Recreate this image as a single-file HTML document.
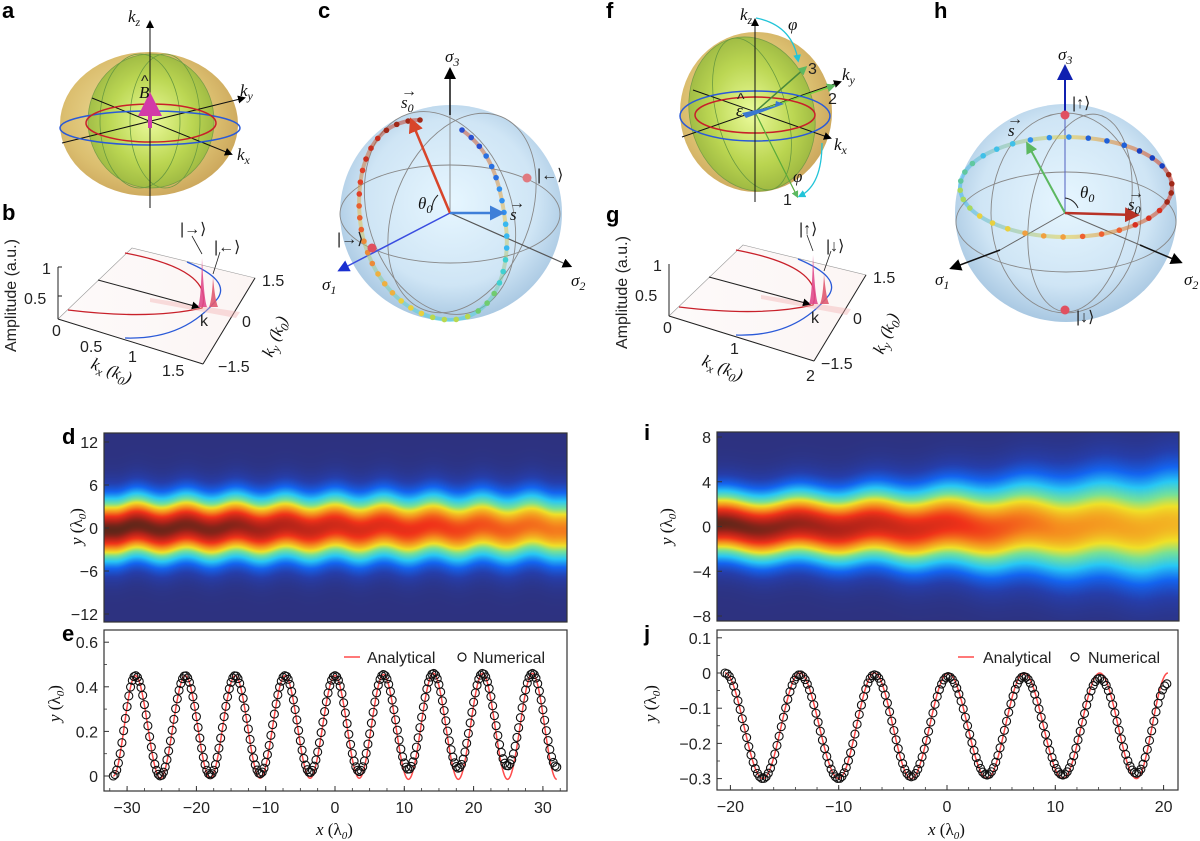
<!DOCTYPE html>
<html><head><meta charset="utf-8">
<style>
html,body{margin:0;padding:0;background:#fff;}
#wrap{position:relative;width:1200px;height:841px;overflow:hidden;font-family:"Liberation Sans",sans-serif;}
svg{position:absolute;left:0;top:0;}
canvas{position:absolute;}
.lbl{font-family:"Liberation Sans",sans-serif;font-weight:bold;font-size:22px;fill:#000;}
.tk{font-family:"Liberation Sans",sans-serif;font-size:16px;fill:#222;}
.it{font-family:"Liberation Serif",serif;font-style:italic;font-size:17px;fill:#111;}
</style></head>
<body>
<div id="wrap">
<canvas id="heatD" width="463" height="189" style="left:104px;top:433px"></canvas>
<canvas id="heatI" width="462" height="189" style="left:717px;top:432px"></canvas>
<svg id="fig" width="1200" height="841" viewBox="0 0 1200 841">
<defs>
 <radialGradient id="gYel" cx="45%" cy="45%" r="60%"><stop offset="0" stop-color="#f3e6a0"/><stop offset="0.7" stop-color="#d8b860"/><stop offset="1" stop-color="#c49a48"/></radialGradient>
 <radialGradient id="gGrn" cx="50%" cy="50%" r="55%"><stop offset="0" stop-color="#eaff9a"/><stop offset="0.6" stop-color="#b4d84a"/><stop offset="1" stop-color="#8fb43a"/></radialGradient>
 <radialGradient id="gBlue" cx="50%" cy="45%" r="55%"><stop offset="0" stop-color="#e6f6ff"/><stop offset="0.7" stop-color="#cfe5f5"/><stop offset="1" stop-color="#a9c8e2"/></radialGradient>
 <linearGradient id="gPlane" x1="0" x2="1"><stop offset="0" stop-color="#fdfafa"/><stop offset="1" stop-color="#fcf5f4"/></linearGradient>
 <marker id="ahK" markerWidth="8" markerHeight="8" refX="6" refY="4" orient="auto"><path d="M0,0 L8,4 L0,8 z" fill="#000"/></marker>
 <marker id="ahM" markerWidth="6" markerHeight="6" refX="3" refY="3" orient="auto"><path d="M0,0 L6,3 L0,6 z" fill="#d23aa8"/></marker>
 <marker id="ahB" markerWidth="8" markerHeight="8" refX="6" refY="4" orient="auto"><path d="M0,0 L8,4 L0,8 z" fill="#1a2fd0"/></marker>
 <marker id="ahR" markerWidth="6" markerHeight="6" refX="4" refY="3" orient="auto"><path d="M0,0 L6,3 L0,6 z" fill="#d8452a"/></marker>
 <marker id="ahDR" markerWidth="6" markerHeight="6" refX="4" refY="3" orient="auto"><path d="M0,0 L6,3 L0,6 z" fill="#b83226"/></marker>
 <marker id="ahS" markerWidth="6" markerHeight="6" refX="4" refY="3" orient="auto"><path d="M0,0 L6,3 L0,6 z" fill="#3f7fd8"/></marker>
 <marker id="ahG" markerWidth="6" markerHeight="6" refX="4" refY="3" orient="auto"><path d="M0,0 L6,3 L0,6 z" fill="#5cb860"/></marker>
 <marker id="ahC" markerWidth="6" markerHeight="6" refX="4" refY="3" orient="auto"><path d="M0,0 L6,3 L0,6 z" fill="#22c4d8"/></marker>
 <marker id="ahNavy" markerWidth="8" markerHeight="8" refX="6" refY="4" orient="auto"><path d="M0,0 L8,4 L0,8 z" fill="#1020b0"/></marker>
 <linearGradient id="rbC" x1="0" y1="0" x2="0" y2="1"><stop offset="0" stop-color="#c03020"/><stop offset="0.5" stop-color="#e8c040"/><stop offset="1" stop-color="#40d0e0"/></linearGradient>
 <linearGradient id="rbH" x1="0" y1="0" x2="1" y2="0"><stop offset="0" stop-color="#40b8f0"/><stop offset="0.5" stop-color="#e8d040"/><stop offset="1" stop-color="#d03020"/></linearGradient>
</defs>

<!-- Panel a -->
<g>
 <text class="lbl" x="2" y="18">a</text>
 <ellipse cx="149" cy="124" rx="89" ry="72" fill="url(#gYel)" opacity="0.9"/>
 <ellipse cx="151" cy="121" rx="63" ry="67" fill="url(#gGrn)" opacity="0.85" stroke="#6a9a40" stroke-width="0.8"/>
 <ellipse cx="140" cy="121" rx="40" ry="67" fill="none" stroke="#6a9a40" stroke-width="0.8"/>
 <ellipse cx="165" cy="121" rx="35" ry="67" fill="none" stroke="#6a9a40" stroke-width="0.8"/>
 <line x1="62" y1="143" x2="244" y2="98" stroke="#111" stroke-width="1" marker-end="url(#ahK)"/>
 <line x1="92" y1="98" x2="231" y2="154" stroke="#111" stroke-width="1" marker-end="url(#ahK)"/>
 <ellipse cx="150" cy="128" rx="90" ry="17" fill="none" stroke="#2a5ad8" stroke-width="1.5"/>
 <ellipse cx="151" cy="123" rx="65" ry="19" fill="none" stroke="#c8202a" stroke-width="1.5"/>
 <line x1="150" y1="208" x2="150" y2="22" stroke="#111" stroke-width="1" marker-end="url(#ahK)"/>
 <line x1="150" y1="128" x2="150" y2="104" stroke="#d23aa8" stroke-width="4" marker-end="url(#ahM)"/>
 <text class="it" x="128" y="22">k<tspan font-size="12" dy="4">z</tspan></text>
 <text class="it" x="240" y="96">k<tspan font-size="12" dy="4">y</tspan></text>
 <text class="it" x="237" y="160">k<tspan font-size="12" dy="4">x</tspan></text>
 <text class="it" x="139" y="98" font-size="15">B</text><text class="tk" x="141" y="86" font-size="11">^</text>
</g>

<!-- Panel b -->
<g id="panelB">
 <text class="lbl" x="2" y="220">b</text>
 <polygon points="58,319 132,248 255,278 203,364" fill="url(#gPlane)" stroke="#999" stroke-width="0.6"/>
 <line x1="58" y1="319" x2="203" y2="364" stroke="#222" stroke-width="1"/>
 <line x1="203" y1="364" x2="255" y2="278" stroke="#222" stroke-width="1"/>
 <line x1="58" y1="319" x2="58" y2="267" stroke="#222" stroke-width="1"/>
 <line x1="58" y1="267" x2="62" y2="267" stroke="#222"/><line x1="58" y1="296" x2="62" y2="296" stroke="#222"/>
 <path d="M125,253 Q215,270 202,308 Q150,320 68,310" fill="none" stroke="#c8202a" stroke-width="1.3"/>
 <path d="M187,262 Q230,280 218,298 Q185,340 125,338" fill="none" stroke="#2a5ad8" stroke-width="1.3"/>
 <polygon points="150,298 240,312 236,318 150,302" fill="#f2b0b0" opacity="0.4"/>
 <line x1="98" y1="280" x2="198" y2="307" stroke="#222" stroke-width="1" marker-end="url(#ahK)"/>
 <path d="M198,307 Q201,300 202,258 Q204,300 207,307 z" fill="#e04a8c" opacity="0.9"/>
 <path d="M209,307 Q212,300 213,277 Q215,300 218,307 z" fill="#e05a70" opacity="0.9"/>
 <line x1="202" y1="254" x2="192" y2="236" stroke="#222" stroke-width="0.8"/>
 <line x1="213" y1="274" x2="220" y2="252" stroke="#222" stroke-width="0.8"/>
 <text class="tk" x="180" y="234" font-size="14">|→⟩</text>
 <text class="tk" x="214" y="252" font-size="14">|←⟩</text>
 <text class="tk" x="200" y="326" font-size="14">k</text>
 <text class="tk" x="42" y="274">1</text><text class="tk" x="24" y="304">0.5</text><text class="tk" x="52" y="336">0</text>
 <text class="tk" x="80" y="352">0.5</text><text class="tk" x="128" y="362">1</text><text class="tk" x="162" y="376">1.5</text>
 <text class="tk" x="262" y="286">1.5</text><text class="tk" x="242" y="327">0</text><text class="tk" x="218" y="372">−1.5</text>
 <text class="it" x="0" y="0" transform="translate(90,368) rotate(22)">k<tspan font-size="12" dy="4">x</tspan><tspan dy="-4"> (k</tspan><tspan font-size="12" dy="4">0</tspan><tspan dy="-4">)</tspan></text>
 <text class="it" x="0" y="0" transform="translate(272,358) rotate(-68)">k<tspan font-size="12" dy="4">y</tspan><tspan dy="-4"> (k</tspan><tspan font-size="12" dy="4">0</tspan><tspan dy="-4">)</tspan></text>
 <text class="tk" x="0" y="0" transform="translate(16,352) rotate(-90)">Amplitude (a.u.)</text>
</g>

<!-- Panel c -->
<g>
 <text class="lbl" x="318" y="18">c</text>
 <ellipse cx="451" cy="213" rx="111" ry="108" fill="url(#gBlue)"/>
 <g fill="none" stroke="#888" stroke-width="0.9">
  <ellipse cx="450" cy="214" rx="110" ry="49"/>
  <ellipse cx="440" cy="213" rx="72" ry="104" transform="rotate(-18 440 213)"/>
  <ellipse cx="462" cy="213" rx="68" ry="104" transform="rotate(22 462 213)"/>
  <line x1="450" y1="213" x2="450" y2="110"/>
 </g>
 <line x1="450" y1="115" x2="450" y2="70" stroke="#111" stroke-width="1.5" marker-end="url(#ahK)"/>
 <line x1="450" y1="213" x2="340" y2="270" stroke="#3a4de0" stroke-width="1.5" marker-end="url(#ahB)"/>
 <line x1="450" y1="213" x2="570" y2="266" stroke="#555" stroke-width="1.2" marker-end="url(#ahK)"/>
 <path id="trajC" d="M420,120 C370,120 355,170 360,220 C365,270 400,318 450,320 C500,318 512,260 505,220 C500,180 490,150 462,130" fill="none" stroke="url(#rbC)" stroke-width="4" opacity="0.5"/>
 <g id="dotsC"></g>
 <line x1="450" y1="213" x2="412" y2="122" stroke="#d8452a" stroke-width="2.5" marker-end="url(#ahR)"/>
 <line x1="450" y1="213" x2="500" y2="213" stroke="#3f7fd8" stroke-width="2.5" marker-end="url(#ahS)"/>
 <circle cx="527" cy="178" r="4.5" fill="#e07a80"/><circle cx="372" cy="248" r="4.5" fill="#e05060"/>
 <path d="M432,210 A20,20 0 0 1 438,195" fill="none" stroke="#222"/>
 <text class="it" x="418" y="209">θ<tspan font-size="12" dy="4">0</tspan></text>
 <text class="it" x="445" y="62">σ<tspan font-size="12" dy="4">3</tspan></text>
 <text class="it" x="322" y="290">σ<tspan font-size="12" dy="4">1</tspan></text>
 <text class="it" x="571" y="286">σ<tspan font-size="12" dy="4">2</tspan></text>
 <text class="it" x="401" y="108">s<tspan font-size="12" dy="4">0</tspan></text><text class="tk" x="401" y="96" font-size="11">→</text>
 <text class="it" x="510" y="220">s</text><text class="tk" x="509" y="208" font-size="11">→</text>
 <text class="tk" x="537" y="180" font-size="15">|←⟩</text>
 <text class="tk" x="337" y="244" font-size="15">|→⟩</text>
</g>

<!-- Panel f -->
<g>
 <text class="lbl" x="606" y="18">f</text>
 <ellipse cx="756" cy="112" rx="76" ry="80" fill="url(#gYel)" opacity="0.9"/>
 <ellipse cx="752" cy="114" rx="62" ry="78" fill="url(#gGrn)" opacity="0.85" stroke="#6a9a40" stroke-width="0.8" transform="rotate(-15 752 114)"/>
 <ellipse cx="752" cy="114" rx="35" ry="78" fill="none" stroke="#6a9a40" stroke-width="0.8" transform="rotate(-15 752 114)"/>
 <line x1="682" y1="137" x2="840" y2="82" stroke="#111" stroke-width="1" marker-end="url(#ahK)"/>
 <line x1="693" y1="90" x2="830" y2="138" stroke="#111" stroke-width="1" marker-end="url(#ahK)"/>
 <line x1="755" y1="112" x2="833" y2="86" stroke="#7cd040" stroke-width="1.5" marker-end="url(#ahG)"/>
 <ellipse cx="755" cy="116" rx="75" ry="25" fill="none" stroke="#2a5ad8" stroke-width="1.5"/>
 <ellipse cx="755" cy="115" rx="60" ry="18" fill="none" stroke="#c8202a" stroke-width="1.5"/>
 <line x1="755" y1="202" x2="755" y2="20" stroke="#111" stroke-width="1" marker-end="url(#ahK)"/>
 <line x1="755" y1="112" x2="805" y2="68" stroke="#4a8a3a" stroke-width="1.5" marker-end="url(#ahG)"/>
 <line x1="755" y1="112" x2="797" y2="196" stroke="#5aaa3a" stroke-width="1.2" marker-end="url(#ahG)"/>
 <path d="M742,113 L775,106 L776,101 L784,104 L746,118 z" fill="#3a78d0"/>
 <path d="M756,18 Q792,25 798,60" fill="none" stroke="#22c4d8" stroke-width="1.3" marker-end="url(#ahC)"/>
 <path d="M822,143 Q822,185 800,196" fill="none" stroke="#22c4d8" stroke-width="1.3" marker-end="url(#ahC)"/>
 <text class="it" x="740" y="20">k<tspan font-size="12" dy="4">z</tspan></text>
 <text class="it" x="842" y="80">k<tspan font-size="12" dy="4">y</tspan></text>
 <text class="it" x="834" y="150">k<tspan font-size="12" dy="4">x</tspan></text>
 <text class="it" x="788" y="30" font-size="14">φ</text><text class="it" x="793" y="182" font-size="14">φ</text>
 <text class="tk" x="808" y="74">3</text><text class="tk" x="828" y="104">2</text><text class="tk" x="783" y="205">1</text>
 <text class="it" x="736" y="116" font-size="14">ε</text><text class="tk" x="737" y="104" font-size="10">^</text>
</g>

<!-- Panel g -->
<g>
 <text class="lbl" x="606" y="222">g</text>
 <g transform="translate(611,-3)">
 <polygon points="58,319 132,248 255,278 203,364" fill="url(#gPlane)" stroke="#999" stroke-width="0.6"/>
 <line x1="58" y1="319" x2="203" y2="364" stroke="#222" stroke-width="1"/>
 <line x1="203" y1="364" x2="255" y2="278" stroke="#222" stroke-width="1"/>
 <line x1="58" y1="319" x2="58" y2="267" stroke="#222" stroke-width="1"/>
 <path d="M125,253 Q215,270 202,308 Q150,320 68,310" fill="none" stroke="#c8202a" stroke-width="1.3"/>
 <path d="M187,262 Q230,280 218,298 Q185,340 125,338" fill="none" stroke="#2a5ad8" stroke-width="1.3"/>
 <polygon points="150,298 240,312 236,318 150,302" fill="#f2b0b0" opacity="0.4"/>
 <line x1="98" y1="280" x2="198" y2="307" stroke="#222" stroke-width="1" marker-end="url(#ahK)"/>
 <path d="M198,307 Q201,300 202,258 Q204,300 207,307 z" fill="#e04a8c" opacity="0.9"/>
 <path d="M209,307 Q212,300 213,277 Q215,300 218,307 z" fill="#e05a70" opacity="0.9"/>
 <line x1="202" y1="254" x2="196" y2="238" stroke="#222" stroke-width="0.8"/>
 <line x1="213" y1="274" x2="220" y2="254" stroke="#222" stroke-width="0.8"/>
 <text class="tk" x="188" y="237" font-size="14">|↑⟩</text>
 <text class="tk" x="215" y="254" font-size="14">|↓⟩</text>
 <text class="tk" x="200" y="326" font-size="14">k</text>
 <text class="tk" x="42" y="274">1</text><text class="tk" x="24" y="304">0.5</text><text class="tk" x="52" y="336">0</text>
 <text class="tk" x="119" y="357">1</text><text class="tk" x="195" y="384">2</text>
 <text class="tk" x="210" y="372">−1.5</text><text class="tk" x="262" y="286">1.5</text><text class="tk" x="242" y="327">0</text>
 <text class="it" x="0" y="0" transform="translate(90,368) rotate(22)">k<tspan font-size="12" dy="4">x</tspan><tspan dy="-4"> (k</tspan><tspan font-size="12" dy="4">0</tspan><tspan dy="-4">)</tspan></text>
 <text class="it" x="0" y="0" transform="translate(272,358) rotate(-68)">k<tspan font-size="12" dy="4">y</tspan><tspan dy="-4"> (k</tspan><tspan font-size="12" dy="4">0</tspan><tspan dy="-4">)</tspan></text>
 <text class="tk" x="0" y="0" transform="translate(16,352) rotate(-90)">Amplitude (a.u.)</text>
 </g>
</g>

<!-- Panel h -->
<g>
 <text class="lbl" x="934" y="18">h</text>
 <ellipse cx="1066" cy="213" rx="111" ry="109" fill="url(#gBlue)"/>
 <g fill="none" stroke="#888" stroke-width="0.9">
  <ellipse cx="1066" cy="222" rx="110" ry="50"/>
  <ellipse cx="1066" cy="213" rx="75" ry="100"/>
  <ellipse cx="1080" cy="213" rx="50" ry="100" transform="rotate(10 1080 213)"/>
 </g>
 <line x1="1065" y1="213" x2="1000" y2="250" stroke="#666" stroke-width="1"/>
 <line x1="1000" y1="250" x2="952" y2="268" stroke="#111" stroke-width="1.5" marker-end="url(#ahK)"/>
 <line x1="1065" y1="213" x2="1140" y2="245" stroke="#666" stroke-width="1"/>
 <line x1="1140" y1="245" x2="1180" y2="262" stroke="#111" stroke-width="1.5" marker-end="url(#ahK)"/>
 <line x1="1065" y1="213" x2="1065" y2="115" stroke="#5060c0" stroke-width="1"/>
 <line x1="1065" y1="115" x2="1065" y2="68" stroke="#1020b0" stroke-width="2" marker-end="url(#ahNavy)"/>
 <ellipse cx="1066" cy="187" rx="106" ry="50" fill="none" stroke="url(#rbH)" stroke-width="4" opacity="0.55"/>
 <g id="dotsH"></g>
 <line x1="1065" y1="213" x2="1028" y2="145" stroke="#5cb860" stroke-width="2" marker-end="url(#ahG)"/>
 <line x1="1065" y1="213" x2="1135" y2="215" stroke="#b83226" stroke-width="2.5" marker-end="url(#ahDR)"/>
 <circle cx="1065" cy="115" r="4.5" fill="#e05060"/><circle cx="1065" cy="310" r="4.5" fill="#e05060"/>
 <path d="M1065,198 A16,16 0 0 1 1078,208" fill="none" stroke="#222"/>
 <text class="it" x="1080" y="198">θ<tspan font-size="12" dy="4">0</tspan></text>
 <text class="it" x="1058" y="60">σ<tspan font-size="12" dy="4">3</tspan></text>
 <text class="it" x="935" y="285">σ<tspan font-size="12" dy="4">1</tspan></text>
 <text class="it" x="1184" y="285">σ<tspan font-size="12" dy="4">2</tspan></text>
 <text class="it" x="1008" y="136">s</text><text class="tk" x="1007" y="124" font-size="11">→</text>
 <text class="it" x="1128" y="210">s<tspan font-size="12" dy="4">0</tspan></text><text class="tk" x="1128" y="198" font-size="11">→</text>
 <text class="tk" x="1072" y="108" font-size="15">|↑⟩</text>
 <text class="tk" x="1076" y="322" font-size="15">|↓⟩</text>
</g>

<!-- Panels d, e, i, j frames -->
<g id="panelD">
 <text class="lbl" x="62" y="444">d</text>
 <rect x="104" y="433" width="463" height="189" fill="none" stroke="#333" stroke-width="1.2"/>
 <g id="dTicks"></g>
 <text class="it" x="0" y="0" transform="translate(82,545) rotate(-90)" font-size="16">y <tspan font-style="normal">(λ</tspan><tspan font-size="11" dy="4">0</tspan><tspan dy="-4" font-style="normal">)</tspan></text>
</g>
<g id="panelE">
 <text class="lbl" x="62" y="641">e</text>
 <rect x="104" y="630" width="463" height="161" fill="#fff" stroke="#333" stroke-width="1.2"/>
 <g id="eAxes"></g>
 <g id="ePlot"></g>
 <line x1="344" y1="657" x2="360" y2="657" stroke="#ff4a4a" stroke-width="1.5"/>
 <text class="tk" x="367" y="663">Analytical</text>
 <circle cx="462" cy="657" r="4" fill="none" stroke="#111" stroke-width="1.2"/>
 <text class="tk" x="473" y="663">Numerical</text>
 <text class="it" x="0" y="0" transform="translate(60,722) rotate(-90)" font-size="16">y <tspan font-style="normal">(λ</tspan><tspan font-size="11" dy="4">0</tspan><tspan dy="-4" font-style="normal">)</tspan></text>
 <text class="it" x="316" y="835" font-size="16">x <tspan font-style="normal">(λ</tspan><tspan font-size="11" dy="4">0</tspan><tspan dy="-4" font-style="normal">)</tspan></text>
</g>
<g id="panelI">
 <text class="lbl" x="644" y="440">i</text>
 <rect x="717" y="432" width="462" height="189" fill="none" stroke="#333" stroke-width="1.2"/>
 <g id="iTicks"></g>
 <text class="it" x="0" y="0" transform="translate(672,545) rotate(-90)" font-size="16">y <tspan font-style="normal">(λ</tspan><tspan font-size="11" dy="4">0</tspan><tspan dy="-4" font-style="normal">)</tspan></text>
</g>
<g id="panelJ">
 <text class="lbl" x="644" y="641">j</text>
 <rect x="717" y="630" width="461" height="160" fill="#fff" stroke="#333" stroke-width="1.2"/>
 <g id="jAxes"></g>
 <g id="jPlot"></g>
 <line x1="958" y1="657" x2="974" y2="657" stroke="#ff4a4a" stroke-width="1.5"/>
 <text class="tk" x="983" y="663">Analytical</text>
 <circle cx="1075" cy="657" r="4" fill="none" stroke="#111" stroke-width="1.2"/>
 <text class="tk" x="1088" y="663">Numerical</text>
 <text class="it" x="0" y="0" transform="translate(656,722) rotate(-90)" font-size="16">y <tspan font-style="normal">(λ</tspan><tspan font-size="11" dy="4">0</tspan><tspan dy="-4" font-style="normal">)</tspan></text>
 <text class="it" x="928" y="835" font-size="16">x <tspan font-style="normal">(λ</tspan><tspan font-size="11" dy="4">0</tspan><tspan dy="-4" font-style="normal">)</tspan></text>
</g>
</svg>
</div>
<script>
// ---- Data: panel e (extrema of trajectory) ----
const eExtX   = [-32, -28.8, -25.2, -21.6, -18.0, -14.4, -10.8, -7.2, -3.6, 0.0, 3.5, 7.0, 10.6, 14.2, 17.8, 21.3, 24.9, 28.5, 32];
const eAnaY   = [0.0, 0.45, -0.01, 0.45, -0.01, 0.45, -0.01, 0.45, -0.01, 0.45, -0.01, 0.455, -0.015, 0.46, -0.015, 0.46, -0.015, 0.46, -0.015];
const eNumY   = [0.0, 0.45, 0.0, 0.45, 0.005, 0.45, 0.01, 0.45, 0.015, 0.45, 0.02, 0.455, 0.03, 0.46, 0.035, 0.46, 0.045, 0.46, 0.04];
const eXTicks = [-30, -20, -10, 0, 10, 20, 30];
const eYTicks = [0, 0.2, 0.4, 0.6];
const eYTickLabels = ["0", "0.2", "0.4", "0.6"];
// ---- Data: panel j ----
const jExtX   = [-20.5, -17.0, -13.6, -10.0, -6.7, -3.3, 0.1, 3.7, 7.1, 10.7, 14.1, 17.5, 20.4];
const jAnaY   = [0.0, -0.30, 0.0, -0.30, 0.0, -0.30, 0.0, -0.30, 0.0, -0.30, 0.0, -0.30, 0.0];
const jNumY   = [0.0, -0.30, -0.005, -0.30, -0.005, -0.295, -0.01, -0.29, -0.01, -0.29, -0.015, -0.285, -0.03];
const jXTicks = [-20, -10, 0, 10, 20];
const jYTicks = [-0.3, -0.2, -0.1, 0, 0.1];
const jYTickLabels = ["−0.3", "−0.2", "−0.1", "0", "0.1"];
// ---- Data: heatmaps d and i (peak intensity & beam width along x) ----
const dAmpX   = [-32, -16, 0, 16, 32];
const dAmp    = [1.0, 0.97, 0.88, 0.82, 0.74];
const dWidth  = [2.3, 2.35, 2.4, 2.45, 2.5];
const dYTicks = [-12, -6, 0, 6, 12];
const iAmpX   = [-21, -10, 0, 10, 21];
const iAmp    = [1.0, 0.93, 0.85, 0.72, 0.66];
const iWidth  = [1.55, 1.7, 1.95, 2.3, 2.6];
const iYTicks = [-8, -4, 0, 4, 8];

const NS = "http://www.w3.org/2000/svg";
function mk(tag, attrs, parent){const el=document.createElementNS(NS,tag);for(const k in attrs)el.setAttribute(k,attrs[k]);parent.appendChild(el);return el;}
function lerpArr(xs, ys, x){ if(x<=xs[0])return ys[0]; for(let i=1;i<xs.length;i++){ if(x<=xs[i]){const t=(x-xs[i-1])/(xs[i]-xs[i-1]);return ys[i-1]+(ys[i]-ys[i-1])*t;} } return ys[ys.length-1]; }
function extremaCurve(xs, ys, x){
  for(let i=1;i<xs.length;i++){ if(x<=xs[i]||i===xs.length-1){ const t=Math.max(0,Math.min(1,(x-xs[i-1])/(xs[i]-xs[i-1]))); const s=(1-Math.cos(Math.PI*t))/2; return ys[i-1]+(ys[i]-ys[i-1])*s; } }
  return ys[ys.length-1];
}

function linePlot(cfg){
  const g=document.getElementById(cfg.plotId), ax=document.getElementById(cfg.axId);
  const X=v=>cfg.x0+(v-cfg.xmin)*cfg.xs, Y=v=>cfg.y0-(v-cfg.ymin)*cfg.ys;
  cfg.xTicks.forEach(t=>{
    const tl=mk('line',{x1:X(t),x2:X(t),y1:cfg.bottom,y2:cfg.bottom-5,stroke:'#333','stroke-width':1},ax);
    
    
    const tx=mk('text',{x:X(t),y:cfg.bottom+22,'text-anchor':'middle',class:'tk'},ax);
    
    
    tx.textContent=t<0?'−'+Math.abs(t):String(t);
  });
  for(let t=cfg.xTicks[0]-cfg.minorX;t<=cfg.xTicks[cfg.xTicks.length-1]+cfg.minorX;t+=cfg.minorX){
    if(X(t)<cfg.left||X(t)>cfg.right)continue;
    mk('line',{x1:X(t),x2:X(t),y1:cfg.bottom,y2:cfg.bottom-3,stroke:'#333','stroke-width':0.8},ax);
  }
  cfg.yTicks.forEach((t,i)=>{
    const tl=mk('line',{x1:cfg.left,x2:cfg.left+5,y1:Y(t),y2:Y(t),stroke:'#333','stroke-width':1},ax);
    
    
    const tx=mk('text',{x:cfg.left-6,y:Y(t)+6,'text-anchor':'end',class:'tk'},ax);
    
    
    tx.textContent=cfg.yLabels[i];
    const mid=t+cfg.minorY;
    if(Y(mid)>cfg.top) mk('line',{x1:cfg.left,x2:cfg.left+3,y1:Y(mid),y2:Y(mid),stroke:'#333','stroke-width':0.8},ax);
  });
  let d='';
  const xa=cfg.extX[0], xb=cfg.extX[cfg.extX.length-1];
  for(let x=xa;x<=xb+1e-9;x+=0.05){ const y=extremaCurve(cfg.extX,cfg.ana,x); d+=(d?'L':'M')+X(x).toFixed(2)+','+Y(y).toFixed(2); }
  const p=mk('path',{d:d,fill:'none',stroke:'#ff4a4a','stroke-width':1.5},g);
  
  
  for(let x=xa;x<=xb+1e-9;x+=cfg.step){
    const y=extremaCurve(cfg.extX,cfg.num,x);
    const c=mk('circle',{cx:X(x).toFixed(2),cy:Y(y).toFixed(2),r:4,fill:'none',stroke:'#111','stroke-width':1.1},g);
    
    
  }
}
linePlot({plotId:'ePlot',axId:'eAxes',extX:eExtX,ana:eAnaY,num:eNumY,xTicks:eXTicks,yTicks:eYTicks,yLabels:eYTickLabels,
  x0:335,xmin:0,xs:6.93,y0:776,ymin:0,ys:223,left:104,right:567,top:630,bottom:791,minorX:2.5,minorY:0.1,step:0.25});
linePlot({plotId:'jPlot',axId:'jAxes',extX:jExtX,ana:jAnaY,num:jNumY,xTicks:jXTicks,yTicks:jYTicks,yLabels:jYTickLabels,
  x0:947,xmin:0,xs:10.83,y0:673,ymin:0,ys:352,left:717,right:1178,top:630,bottom:790,minorX:2,minorY:0.05,step:0.2});

const cmStops=[[0,[45,50,128]],[0.1,[38,62,170]],[0.22,[20,100,240]],[0.36,[40,200,245]],[0.5,[120,225,150]],[0.6,[240,225,40]],[0.72,[245,140,30]],[0.83,[240,50,25]],[0.93,[175,35,25]],[1,[95,38,25]]];
function cmap(t){t=Math.max(0,Math.min(1,t));for(let i=1;i<cmStops.length;i++){if(t<=cmStops[i][0]){const a=cmStops[i-1],b=cmStops[i];const u=(t-a[0])/(b[0]-a[0]);return a[1].map((v,k)=>Math.round(v+(b[1][k]-v)*u));}}return cmStops[cmStops.length-1][1];}
function heat(id, xmin, xmax, ymax, ampX, amp, wid, extX, traj, trajScale, trajMean){
  const cv=document.getElementById(id), ctx=cv.getContext('2d'), W=cv.width, H=cv.height;
  const img=ctx.createImageData(W,H);
  for(let i=0;i<W;i++){
    const x=xmin+(xmax-xmin)*i/(W-1);
    const A=lerpArr(ampX,amp,x), w=lerpArr(ampX,wid,x);
    const yc=(extremaCurve(extX,traj,Math.max(extX[0],Math.min(extX[extX.length-1],x)))-trajMean)*trajScale;
    for(let j=0;j<H;j++){
      const y=ymax-2*ymax*j/(H-1);
      const v=A*Math.exp(-Math.pow((y-yc)/w,2)/2*0.55);
      const c=cmap(v);
      const k=(j*W+i)*4; img.data[k]=c[0];img.data[k+1]=c[1];img.data[k+2]=c[2];img.data[k+3]=255;
    }
  }
  ctx.putImageData(img,0,0);
}
heat('heatD',-33.5,33.5,13.2,dAmpX,dAmp,dWidth,eExtX,eAnaY,1.6,0.22);
heat('heatI',-21,21,8.6,iAmpX,iAmp,iWidth,jExtX,jAnaY,1.8,-0.15);

function hTicks(gid,left,yTop,yBot,vals,vmax){
  const g=document.getElementById(gid);
  vals.forEach(v=>{
    const y=(yTop+yBot)/2 - v*(yBot-yTop)/2/vmax;
    mk('line',{x1:left,x2:left+5,y1:y,y2:y,stroke:'#333'},g);
    const t=mk('text',{x:left-6,y:y+6,'text-anchor':'end',class:'tk'},g);
    
    
    t.textContent=v<0?'−'+Math.abs(v):String(v);
  });
}
hTicks('dTicks',104,442,614,dYTicks,12);
hTicks('iTicks',717,437,616,iYTicks,8);

const cDotColors=['#a02818','#c83020','#e04028','#e86030','#ec8a38','#eeb040','#e8d040','#b8d850','#70cc70','#40d0d0','#38b8f0','#3090f0','#2a70e0','#2a50d0'];
(function(){
  const g=document.getElementById('dotsC'), path=document.getElementById('trajC'), L=path.getTotalLength();
  const n=44;
  for(let i=0;i<n;i++){const p=path.getPointAtLength(L*i/(n-1));const col=cDotColors[Math.min(cDotColors.length-1,Math.floor(i/n*cDotColors.length))];
    mk('circle',{cx:p.x,cy:p.y,r:2.8,fill:col},g);}
  const gh=document.getElementById('dotsH');
  const hColors=['#a02818','#d83020','#ee6030','#f0a040','#e8d040','#a8d860','#60c8a0','#40c0e8','#3090f0','#2060d8','#1a40c0'];
  const n2=34;
  for(let i=0;i<n2;i++){const a=0.25-i/n2*2*Math.PI;const x=1066+106*Math.cos(a),y=187-50*Math.sin(a);
    mk('circle',{cx:x,cy:y,r:2.8,fill:hColors[Math.floor(i/n2*hColors.length)]},gh);}
})();
</script>
</body></html>
